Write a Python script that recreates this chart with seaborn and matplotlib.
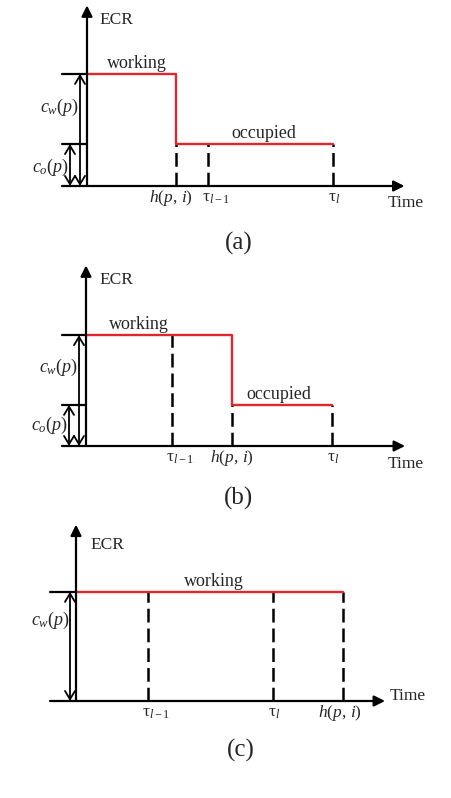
import numpy as np
import pandas as pd
import matplotlib
matplotlib.use("Agg")
import matplotlib.pyplot as plt
import seaborn as sns

# Dados do esquema (unidades arbitrárias de tempo e de ECR)
painel = ["(a)", "(b)", "(c)"]
c_w = [2.67, 2.64, 2.60]          # nível "working"
c_o = [1.00, 0.98, None]          # nível "occupied" (não existe em (c))
h_pi = [3.56, 5.84, 10.68]        # h(p, i)
tau_ant = [4.84, 3.44, 2.88]      # tau_{l-1}
tau_l = [9.84, 9.84, 7.88]        # tau_l

lbl_h = r"$h(p,\,i)$"
lbl_tau_ant = r"$\mathrm{\tau}_{l-1}$"
lbl_tau_l = r"$\mathrm{\tau}_{l}$"

W, H = 452, 798
SX, SY = 25.0, 42.0   # pixels por unidade
VERMELHO = "#e3262b"

sns.set_theme(style="white")
plt.rcParams["font.family"] = ["Liberation Serif", "DejaVu Serif"]
plt.rcParams["mathtext.fontset"] = "custom"
plt.rcParams["mathtext.rm"] = "Liberation Serif"
plt.rcParams["mathtext.it"] = "Liberation Serif:italic"

fig = plt.figure(figsize=(W / 100, H / 100), dpi=100)

# layout de cada painel (pixels da figura)
layout = [
    dict(top=0, bottom=230, x0=87, y0=186, xa=-1.0, xb=12.7, yt=4.3,
         cw_x=-0.28, co_x=-0.68, time=(12.04, -0.40, "left"), ecr=(0.48, 3.95),
         work_x=2.0, occ_x=7.08, cw_lbl=(-0.30, 1.86), co_lbl=(-0.74, 0.45),
         letter=(239, 243), h_dx=-5),
    dict(top=260, bottom=490, x0=86, y0=446, xa=-0.96, xb=12.76, yt=4.3,
         cw_x=-0.28, co_x=-0.68, time=(12.08, -0.43, "left"), ecr=(0.52, 3.95),
         work_x=2.12, occ_x=7.72, cw_lbl=(-0.30, 1.86), co_lbl=(-0.72, 0.50),
         letter=(239, 498), h_dx=0),
    dict(top=520, bottom=740, x0=76, y0=701, xa=-1.04, xb=12.36, yt=4.2,
         cw_x=-0.24, co_x=None, time=(12.56, 0.12, "left"), ecr=(0.56, 3.71),
         work_x=5.52, occ_x=None, cw_lbl=(-0.22, 1.93), co_lbl=None,
         letter=(241, 750), h_dx=-3),
]

for i, lay in enumerate(layout):
    ax = fig.add_axes([0, 1 - lay["bottom"] / H, 1, (lay["bottom"] - lay["top"]) / H])

    # degrau vermelho
    if c_o[i] is not None:
        df = pd.DataFrame({"t": [0, h_pi[i], h_pi[i], tau_l[i]],
                           "ecr": [c_w[i], c_w[i], c_o[i], c_o[i]]})
    else:
        df = pd.DataFrame({"t": [0, h_pi[i]], "ecr": [c_w[i], c_w[i]]})
    sns.lineplot(data=df, x="t", y="ecr", sort=False, estimator=None,
                 color=VERMELHO, lw=1.7, ax=ax, zorder=3)

    # linhas tracejadas até o nível do degrau
    marcas = [(h_pi[i], lbl_h, "center", lay["h_dx"]), (tau_ant[i], lbl_tau_ant, "left", -6),
              (tau_l[i], lbl_tau_l, "left", -5)]
    for t, lbl, ha, dx in marcas:
        if c_o[i] is None or t < h_pi[i]:
            nivel = c_w[i]
        else:
            nivel = c_o[i]
        ax.vlines(t, 0, nivel, colors="black", lw=1.8, linestyles=(0, (5.5, 2.4)))
        ax.annotate(lbl, xy=(t, 0), xytext=(dx, -12), textcoords="offset pixels",
                    ha=ha, va="center", fontsize=12.5)

    # eixos com setas
    ax.annotate("", xy=(lay["xb"], 0), xytext=(lay["xa"], 0),
                arrowprops=dict(arrowstyle="-|>", color="black", lw=1.6,
                                mutation_scale=16, shrinkA=0, shrinkB=0))
    ax.annotate("", xy=(0, lay["yt"]), xytext=(0, 0),
                arrowprops=dict(arrowstyle="-|>", color="black", lw=1.6,
                                mutation_scale=16, shrinkA=0, shrinkB=0))

    # traços de nível à esquerda e setas duplas
    niveis = [(c_w[i], lay["cw_x"], r"$c_w(p)$", lay["cw_lbl"]),
              (c_o[i], lay["co_x"], r"$c_o(p)$", lay["co_lbl"])]
    for nivel, xs, lbl, pos in niveis:
        if nivel is None:
            continue
        ax.plot([lay["xa"], 0], [nivel, nivel], color="black", lw=1.6)
        ax.annotate("", xy=(xs, nivel), xytext=(xs, 0),
                    arrowprops=dict(arrowstyle="<->,head_length=0.5,head_width=0.3",
                                    color="black", lw=1.3, mutation_scale=12,
                                    shrinkA=0, shrinkB=0))
        ax.text(pos[0], pos[1], lbl, ha="right", va="center", fontsize=13)

    # textos
    tx, ty, tha = lay["time"]
    ax.text(tx, ty, "Time", ha=tha, va="center", fontsize=12.5)
    ax.text(lay["ecr"][0], lay["ecr"][1], "ECR", ha="left", va="center", fontsize=12.5)
    ax.annotate("working", xy=(lay["work_x"], c_w[i]), xytext=(0, 2),
                textcoords="offset pixels", ha="center", va="bottom", fontsize=13)
    if lay["occ_x"] is not None:
        ax.annotate("occupied", xy=(lay["occ_x"], c_o[i]), xytext=(0, 2),
                    textcoords="offset pixels", ha="center", va="bottom", fontsize=13)

    ax.set_xlim(-lay["x0"] / SX, (W - lay["x0"]) / SX)
    ax.set_ylim(-(lay["bottom"] - lay["y0"]) / SY, (lay["y0"] - lay["top"]) / SY)
    ax.axis("off")

    fig.text(lay["letter"][0] / W, 1 - lay["letter"][1] / H, painel[i],
             ha="center", va="center", fontsize=18)

fig.savefig("out.png", dpi=100)
